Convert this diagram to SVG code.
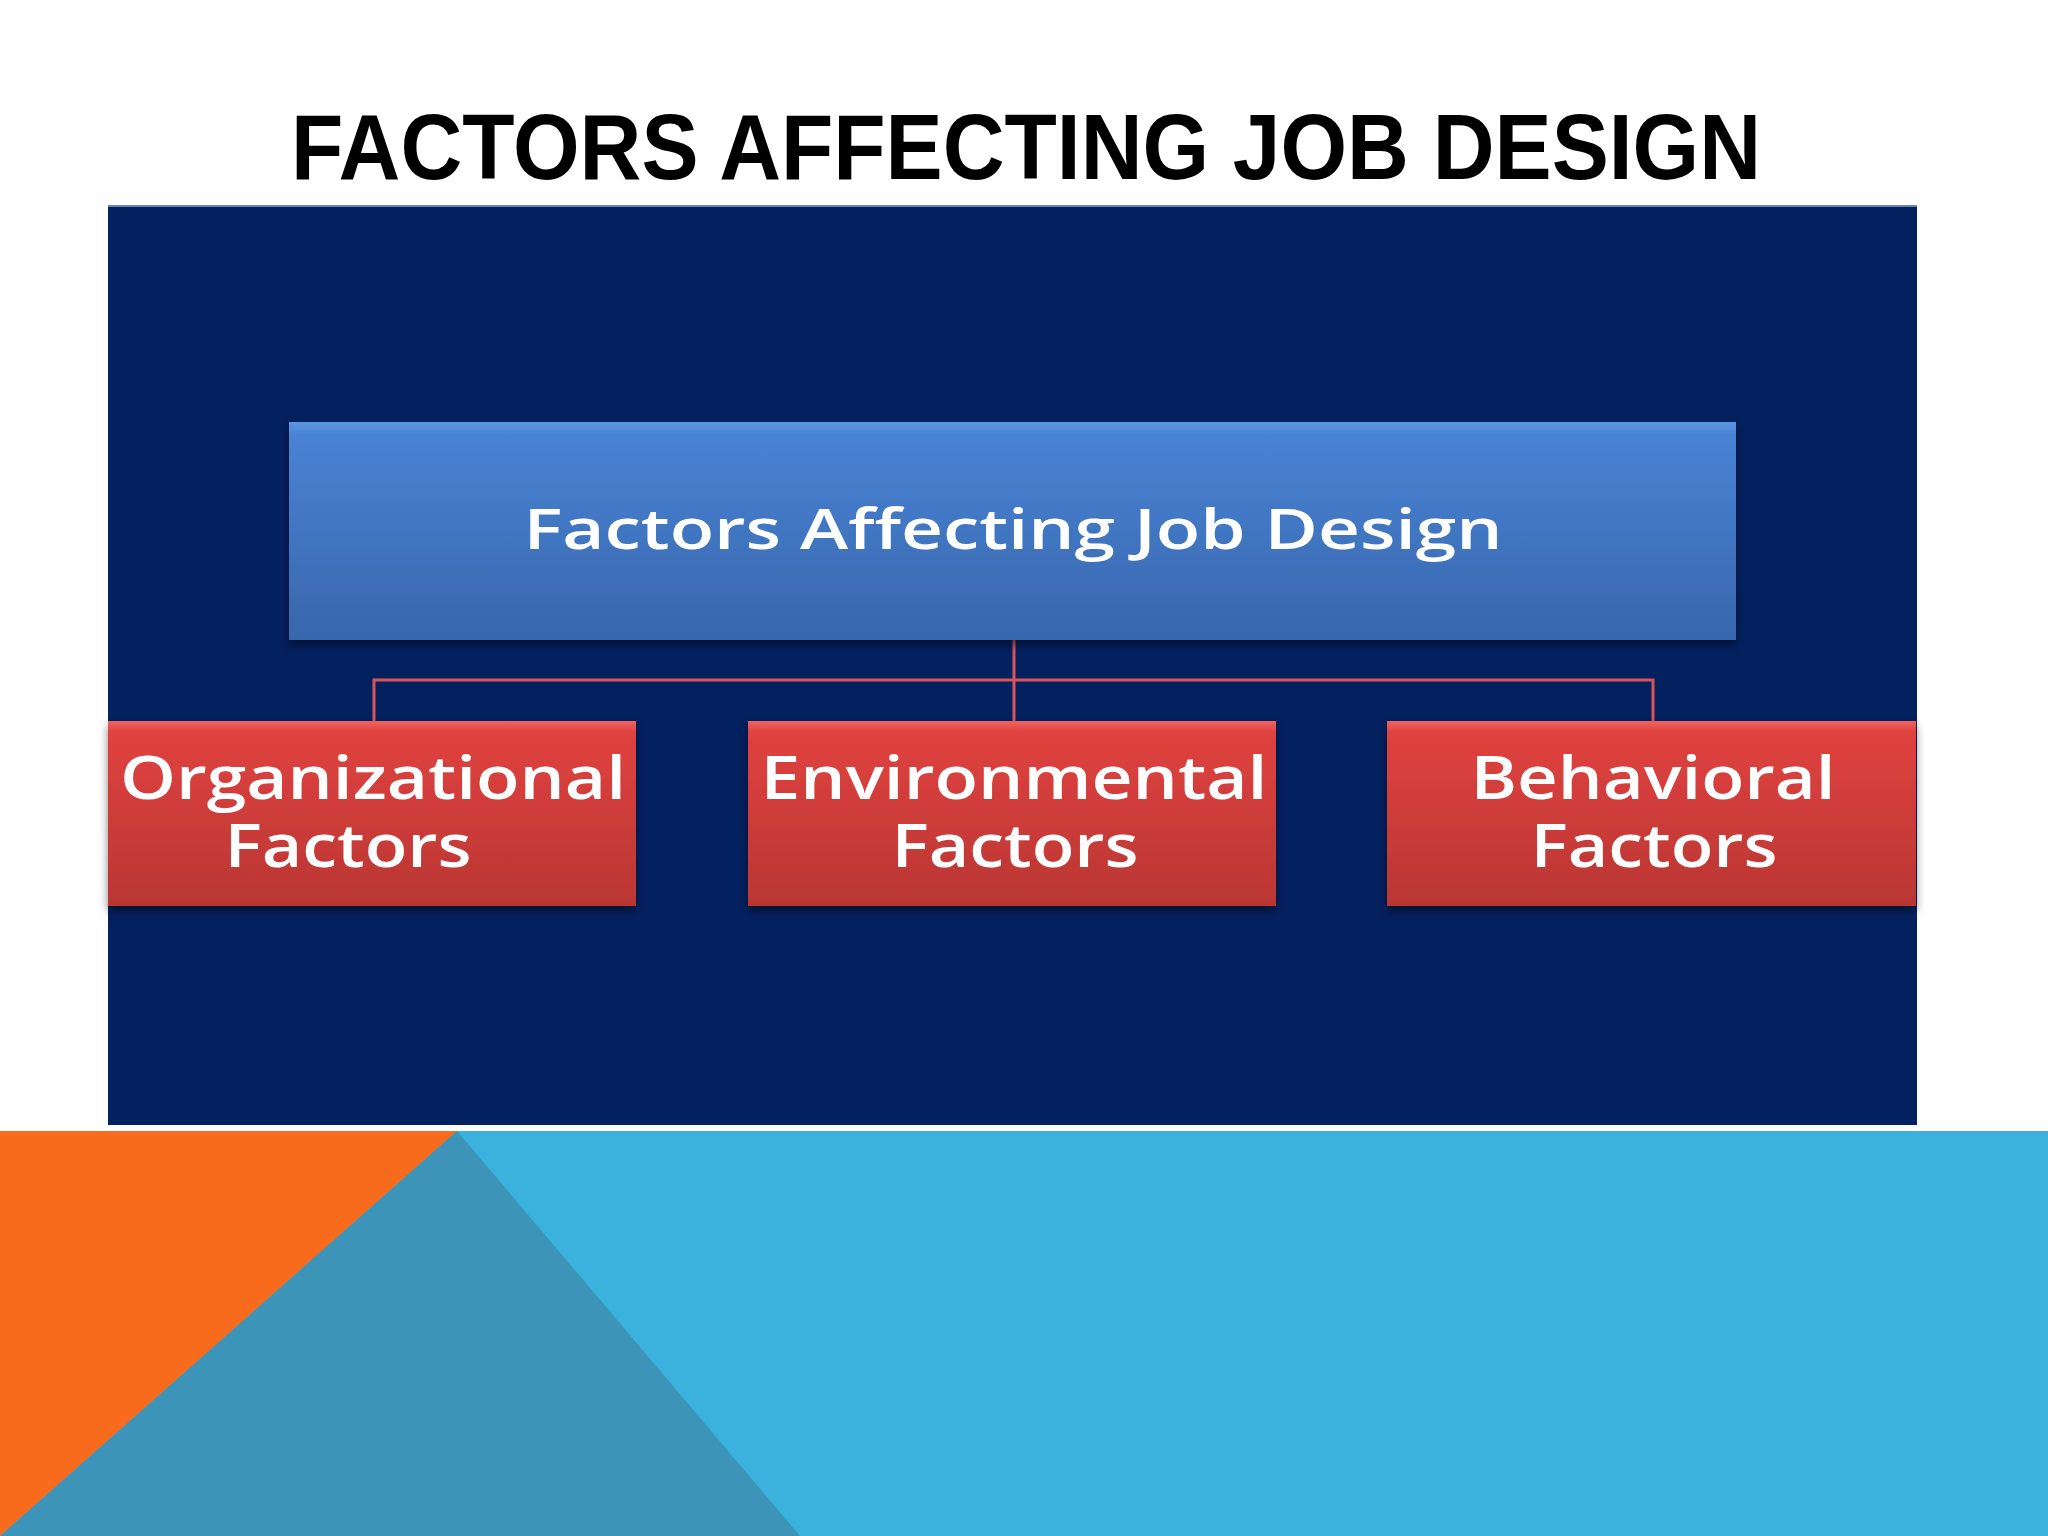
<svg xmlns="http://www.w3.org/2000/svg" width="2048" height="1536" viewBox="0 0 2048 1536">
<style>
.title{font-family:"Liberation Sans",Arial,sans-serif;font-size:92px;font-weight:bold;fill:#000;}
.lbl{font-family:"Open Sans","DejaVu Sans",sans-serif;font-weight:600;fill:#FFFFFF;text-anchor:middle;}
.conn{stroke:#D9545A;stroke-width:3;fill:none;}
</style>
<defs>
<linearGradient id="gBlue" x1="0" y1="0" x2="0" y2="1">
<stop offset="0" stop-color="#5B95E0"/>
<stop offset="0.06" stop-color="#4983D4"/>
<stop offset="1" stop-color="#3866AC"/>
</linearGradient>
<linearGradient id="gRed" x1="0" y1="0" x2="0" y2="1">
<stop offset="0" stop-color="#EE6460"/>
<stop offset="0.06" stop-color="#E0423F"/>
<stop offset="1" stop-color="#B93633"/>
</linearGradient>
<filter id="sh" x="-5%" y="-10%" width="110%" height="125%">
<feDropShadow dx="0" dy="5" stdDeviation="4" flood-color="#000000" flood-opacity="0.5"/>
</filter>
</defs>
<rect x="0" y="0" width="2048" height="1536" fill="#FFFFFF"/>
<text class="title" x="291" y="179" textLength="1470" lengthAdjust="spacingAndGlyphs">FACTORS AFFECTING JOB DESIGN</text>
<rect x="108" y="205" width="1809" height="920" fill="#03205F"/>
<line x1="108" y1="206" x2="1917" y2="206" stroke="#6C82B0" stroke-width="2"/>
<g id="bottom">
<rect x="0" y="1131" width="2048" height="405" fill="#3BB1DE"/>
<polygon points="0,1131 457,1131 0,1536" fill="#F96B1C"/>
<polygon points="457,1131 800,1536 0,1536" fill="#3C94B8"/>
</g>
<g id="connectors">
<line class="conn" x1="1014" y1="640" x2="1014" y2="722"/>
<polyline class="conn" points="374,722 374,680 1653,680 1653,722"/>
</g>
<g id="top">
<rect x="289" y="422" width="1447" height="218" fill="url(#gBlue)" filter="url(#sh)"/>
<text class="lbl" x="1013" y="549" font-size="56" textLength="979" lengthAdjust="spacingAndGlyphs">Factors Affecting Job Design</text>
</g>
<g id="org">
<rect x="108" y="721" width="528" height="185" fill="url(#gRed)" filter="url(#sh)"/>
<text class="lbl" x="373" y="799" font-size="60" textLength="506" lengthAdjust="spacingAndGlyphs">Organizational</text>
<text class="lbl" x="348" y="867" font-size="60" textLength="247" lengthAdjust="spacingAndGlyphs">Factors</text>
</g>
<g id="env">
<rect x="748" y="721" width="528" height="185" fill="url(#gRed)" filter="url(#sh)"/>
<text class="lbl" x="1014" y="799" font-size="60" textLength="507" lengthAdjust="spacingAndGlyphs">Environmental</text>
<text class="lbl" x="1015" y="867" font-size="60" textLength="247" lengthAdjust="spacingAndGlyphs">Factors</text>
</g>
<g id="beh">
<rect x="1387" y="721" width="529" height="185" fill="url(#gRed)" filter="url(#sh)"/>
<text class="lbl" x="1653" y="799" font-size="60" textLength="365" lengthAdjust="spacingAndGlyphs">Behavioral</text>
<text class="lbl" x="1654" y="867" font-size="60" textLength="247" lengthAdjust="spacingAndGlyphs">Factors</text>
</g>
</svg>
